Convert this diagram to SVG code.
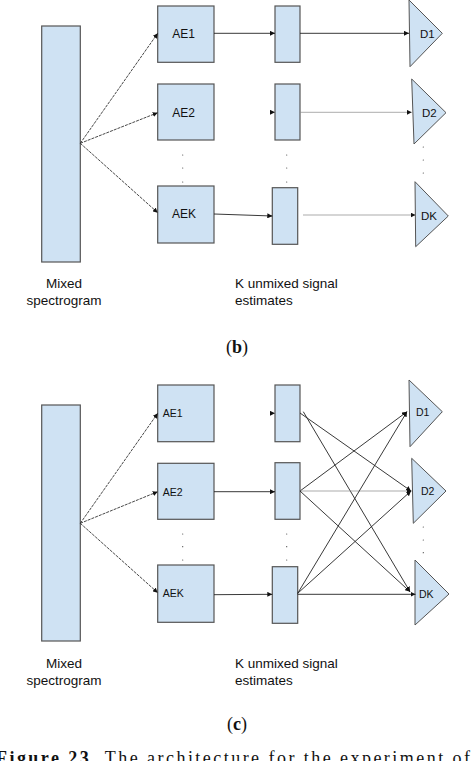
<svg xmlns="http://www.w3.org/2000/svg" width="474" height="761" viewBox="0 0 474 761">
<style>
.box{fill:#cfe2f3;stroke:#555;stroke-width:1.2}
.tri{fill:#cfe2f3;stroke:#555;stroke-width:1}
.ln{fill:none;stroke:#222;stroke-width:0.9}
.lt{fill:none;stroke:#888;stroke-width:0.7}
.ds{fill:none;stroke:#333;stroke-width:0.9;stroke-dasharray:3 1}
.t{font-family:"Liberation Sans",Arial,sans-serif;fill:#111}
.dot{fill:#444}
.cap{font-family:"Liberation Serif","Times New Roman",serif;font-size:18px;fill:#111}
</style>
<defs>
<marker id="ah" viewBox="0 0 6 6" refX="6" refY="3" markerWidth="5" markerHeight="5" orient="auto" markerUnits="userSpaceOnUse">
<path d="M0,0 L6,3 L0,6 z" fill="#111"/>
</marker>
</defs>
<rect width="474" height="761" fill="#fff"/>

<!-- Panel b -->
<g id="b-mixed"><rect class="box" x="41.7" y="26" width="38.6" height="236"/>
<text class="t" x="64" y="288" font-size="13.5" text-anchor="middle">Mixed</text>
<text class="t" x="64" y="304.5" font-size="13.5" text-anchor="middle">spectrogram</text></g>
<g id="b-ae1"><rect class="box" x="157.7" y="6" width="56.3" height="56.3"/><text class="t" x="183.5" y="37.5" font-size="12" text-anchor="middle">AE1</text></g>
<g id="b-ae2"><rect class="box" x="157.7" y="84" width="56.3" height="56"/><text class="t" x="183.5" y="117" font-size="12" text-anchor="middle">AE2</text></g>
<g id="b-aek"><rect class="box" x="157.7" y="186" width="56.3" height="57"/><text class="t" x="184" y="218" font-size="12" text-anchor="middle">AEK</text></g>
<g id="b-s1"><rect class="box" x="275" y="6" width="25" height="56.3"/></g>
<g id="b-s2"><rect class="box" x="275" y="84" width="25" height="56"/></g>
<g id="b-sk"><rect class="box" x="272.3" y="187.7" width="25.4" height="56.6"/></g>
<g id="b-d1"><path class="tri" d="M409,0 L442.3,33.3 L410,66.7 z"/><text class="t" x="420" y="37.5" font-size="11.5">D1</text></g>
<g id="b-d2"><path class="tri" d="M411.7,79 L446,112.7 L414,144 z"/><text class="t" x="422" y="117" font-size="11.5">D2</text></g>
<g id="b-dk"><path class="tri" d="M415,181.7 L448.3,216 L415.7,246.7 z"/><text class="t" x="421" y="220" font-size="11.5">DK</text></g>
<g id="b-dots">
<circle class="dot" cx="182.7" cy="155" r="0.6"/><circle class="dot" cx="182.7" cy="168" r="0.6"/><circle class="dot" cx="182.7" cy="182" r="0.6"/>
<circle class="dot" cx="286.7" cy="155" r="0.6"/><circle class="dot" cx="286.7" cy="168" r="0.6"/><circle class="dot" cx="286.7" cy="182" r="0.6"/>
<circle class="dot" cx="423.3" cy="147" r="0.6"/><circle class="dot" cx="423.3" cy="160" r="0.6"/><circle class="dot" cx="423.3" cy="173" r="0.6"/>
</g>
<text class="t" x="235" y="288" font-size="13.5">K unmixed signal</text>
<text class="t" x="235" y="304.5" font-size="13.5">estimates</text>
<text class="cap" x="237" y="353" text-anchor="middle">(<tspan font-weight="bold">b</tspan>)</text>

<g id="b-connectors">
<line class="ds" x1="80.3" y1="143.3" x2="157.7" y2="33.3" marker-end="url(#ah)"/>
<line class="ds" x1="80.3" y1="143.3" x2="157.7" y2="112.7" marker-end="url(#ah)"/>
<line class="ds" x1="80.3" y1="143.3" x2="157.7" y2="212.7" marker-end="url(#ah)"/>
<line class="ln" x1="214" y1="33.3" x2="275" y2="33.3" marker-end="url(#ah)"/>
<line class="lt" x1="271" y1="112.3" x2="275" y2="112.3" marker-end="url(#ah)"/>
<line class="ln" x1="214" y1="214" x2="272.3" y2="216" marker-end="url(#ah)"/>
<line class="ln" x1="300" y1="33.3" x2="409" y2="33.3" marker-end="url(#ah)"/>
<line class="lt" x1="300" y1="112.3" x2="411.7" y2="112.3" marker-end="url(#ah)"/>
<line class="lt" x1="303" y1="215" x2="415.5" y2="215" marker-end="url(#ah)"/>
</g>

<!-- Panel c -->
<g id="c-mixed"><rect class="box" x="41.7" y="405" width="38.6" height="236"/>
<text class="t" x="64" y="668" font-size="13.5" text-anchor="middle">Mixed</text>
<text class="t" x="64" y="684.5" font-size="13.5" text-anchor="middle">spectrogram</text></g>
<g id="c-ae1"><rect class="box" x="157.7" y="385" width="56.3" height="56.7"/><text class="t" x="162.7" y="417" font-size="10.5">AE1</text></g>
<g id="c-ae2"><rect class="box" x="157.7" y="463.3" width="56.3" height="56"/><text class="t" x="162.7" y="495.5" font-size="10.5">AE2</text></g>
<g id="c-aek"><rect class="box" x="157.7" y="565" width="56.3" height="57.3"/><text class="t" x="162.7" y="596.5" font-size="10.5">AEK</text></g>
<g id="c-s1"><rect class="box" x="275" y="385" width="25" height="56.7"/></g>
<g id="c-s2"><rect class="box" x="275" y="462.7" width="25" height="56.6"/></g>
<g id="c-sk"><rect class="box" x="272.3" y="566.7" width="25.4" height="56.6"/></g>
<g id="c-d1"><path class="tri" d="M409,380 L442.3,411.7 L410,446.7 z"/><text class="t" x="416" y="415.5" font-size="10.5">D1</text></g>
<g id="c-d2"><path class="tri" d="M411.7,458.3 L446,491 L413.3,523.3 z"/><text class="t" x="421" y="495" font-size="10.5">D2</text></g>
<g id="c-dk"><path class="tri" d="M415,560 L449,594 L415,625 z"/><text class="t" x="419" y="598" font-size="10.5">DK</text></g>
<g id="c-dots">
<circle class="dot" cx="182.7" cy="534" r="0.6"/><circle class="dot" cx="182.7" cy="546.7" r="0.6"/><circle class="dot" cx="182.7" cy="560" r="0.6"/>
<circle class="dot" cx="286.7" cy="534" r="0.6"/><circle class="dot" cx="286.7" cy="546.7" r="0.6"/><circle class="dot" cx="286.7" cy="560" r="0.6"/>
<circle class="dot" cx="423.3" cy="527" r="0.6"/><circle class="dot" cx="423.3" cy="540" r="0.6"/><circle class="dot" cx="423.3" cy="552.7" r="0.6"/>
</g>
<text class="t" x="235" y="668" font-size="13.5">K unmixed signal</text>
<text class="t" x="235" y="684.5" font-size="13.5">estimates</text>
<text class="cap" x="237" y="730" text-anchor="middle">(<tspan font-weight="bold">c</tspan>)</text>

<g id="c-connectors">
<line class="ds" x1="80.3" y1="523.3" x2="157.7" y2="413.3" marker-end="url(#ah)"/>
<line class="ds" x1="80.3" y1="523.3" x2="157.7" y2="491.7" marker-end="url(#ah)"/>
<line class="ds" x1="80.3" y1="523.3" x2="157.7" y2="592.7" marker-end="url(#ah)"/>
<line class="lt" x1="271" y1="413.3" x2="275" y2="413.3" marker-end="url(#ah)"/>
<line class="ln" x1="214" y1="491.7" x2="275" y2="491.7" marker-end="url(#ah)"/>
<line class="ln" x1="214" y1="594.7" x2="272.3" y2="594.3" marker-end="url(#ah)"/>
<line class="ln" x1="300" y1="413" x2="411" y2="491" marker-end="url(#ah)"/>
<line class="ln" x1="303.3" y1="411.7" x2="410" y2="591.7" marker-end="url(#ah)"/>
<line class="ln" x1="300" y1="491" x2="407" y2="411.7" marker-end="url(#ah)"/>
<line class="lt" x1="300" y1="491" x2="411.7" y2="491" marker-end="url(#ah)"/>
<line class="ln" x1="300" y1="491" x2="410" y2="591.7" marker-end="url(#ah)"/>
<line class="ln" x1="297.7" y1="593.3" x2="407" y2="411.7" marker-end="url(#ah)"/>
<line class="ln" x1="297.7" y1="593.3" x2="411" y2="491" marker-end="url(#ah)"/>
<line class="ln" x1="297.7" y1="594.3" x2="415.5" y2="594.3" marker-end="url(#ah)"/>
</g>

<text class="cap" x="-4" y="764" font-size="19" textLength="474" lengthAdjust="spacing"><tspan font-weight="bold">Figure 23.</tspan> The architecture for the experiment of</text>
</svg>
